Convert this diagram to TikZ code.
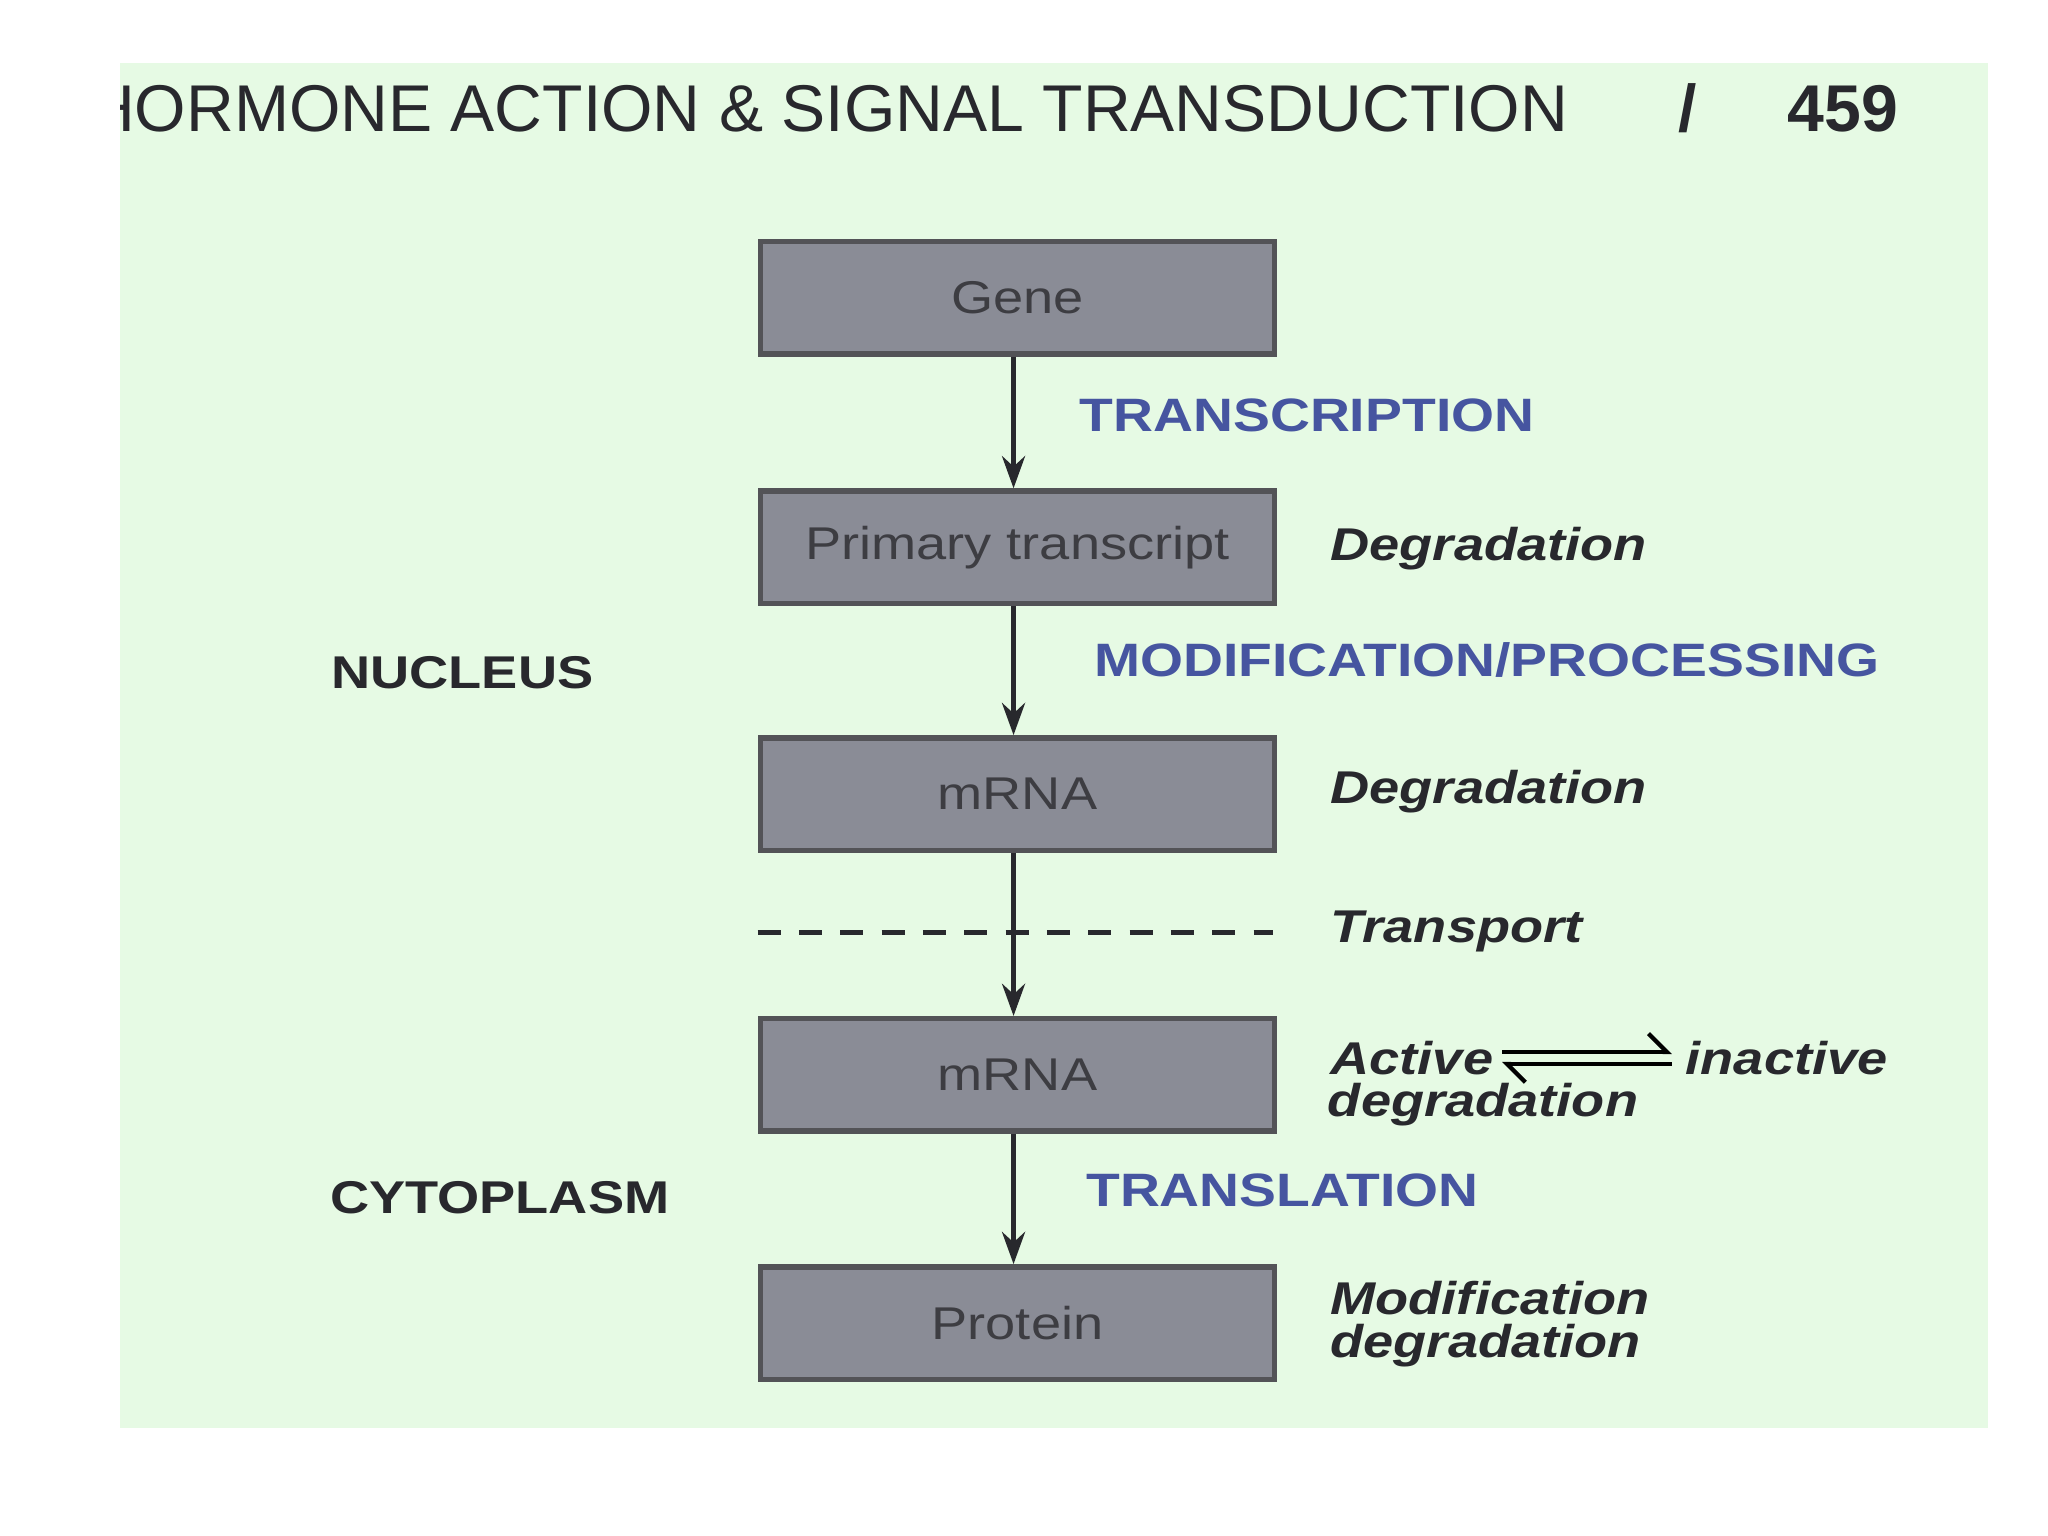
\documentclass[tikz,border=0pt]{standalone}
\usepackage{fontspec}
\setmainfont{Liberation Sans}
\newfontfamily\widefont[FakeStretch=1.18]{Liberation Sans}
\usetikzlibrary{arrows.meta}
\definecolor{panel}{RGB}{230,250,228}
\definecolor{boxg}{RGB}{138,140,150}
\definecolor{blueish}{RGB}{70,85,160}
\definecolor{txt}{RGB}{40,40,45}
\tikzset{
 stepbox/.style={draw=txt!80,line width=1.2pt,fill=boxg,minimum width=3.93cm,minimum height=0.86cm,text=txt!90,font=\widefont\fontsize{10}{11}\selectfont,inner sep=0pt},
 proc/.style={anchor=west,text=blueish,font=\widefont\fontsize{10.2}{11}\selectfont\bfseries,inner sep=0pt},
 note/.style={anchor=west,text=txt,font=\widefont\fontsize{10}{10.4}\selectfont\bfseries\itshape,inner sep=0pt,align=left},
 region/.style={anchor=west,text=txt,font=\widefont\fontsize{10}{11}\selectfont\bfseries,inner sep=0pt},
 flow/.style={-{Stealth[length=7pt,width=5pt]},line width=1.1pt,draw=txt}
}
\begin{document}
\begin{tikzpicture}[x=0.01cm,y=-0.01cm]
\useasboundingbox (0,0) rectangle (1568,1176);
\fill[white] (0,0) rectangle (1568,1176);
\fill[panel] (92,48) rectangle (1522,1093);
\begin{scope}
\clip (92,48) rectangle (1522,1093);
\node[anchor=base west,inner sep=0pt,text=txt,font=\fontsize{14.4}{16}\selectfont] (hdr) at (66,101) {HORMONE ACTION \& SIGNAL TRANSDUCTION};
\end{scope}
\node[anchor=base,inner sep=0pt,text=txt,font=\fontsize{14.4}{16}\selectfont\bfseries] (sl) at (1292,101) {/};
\node[anchor=base west,inner sep=0pt,text=txt,font=\fontsize{14.4}{16}\selectfont\bfseries] (pg) at (1368,101) {459};

\node[stepbox] (gene) at (779,228) {Gene};
\node[stepbox] (prim) at (779,419) {Primary transcript};
\node[stepbox] (m1) at (779,608) {mRNA};
\node[stepbox] (m2) at (779,823) {mRNA};
\node[stepbox] (prot) at (779,1013) {Protein};

\draw[flow] (gene.south -| 776,0) -- (prim.north -| 776,0);
\draw[flow] (prim.south -| 776,0) -- (m1.north -| 776,0);
\draw[flow] (m1.south -| 776,0) -- (m2.north -| 776,0);
\draw[flow] (m2.south -| 776,0) -- (prot.north -| 776,0);

\coordinate (dl) at (580,714);
\coordinate (dr) at (975,714);
\draw[line width=1.1pt,draw=txt,dash pattern=on 5pt off 4pt] (dl) -- (dr);

\node[proc] (tc) at (826,318) {TRANSCRIPTION};
\node[note] (d1) at (1018,420) {Degradation};
\node[proc] (mp) at (837,505) {MODIFICATION/PROCESSING};
\node[note] (d2) at (1018,606) {Degradation};
\node[note] (tr) at (1018,713) {Transport};
\node[note] (act) at (1018,810) {Active};
\node[note] (inact) at (1290,810) {inactive};
\node[note] (dg3) at (1016,846) {degradation};
\node[proc] (tl) at (831,911) {TRANSLATION};
\node[note] (md) at (1018,1014) {Modification\\[-1pt]degradation};
\node[region] (nuc) at (253,515) {NUCLEUS};
\node[region] (cyt) at (252,917) {CYTOPLASM};

\coordinate (ea) at (1150,810);
\coordinate (eb) at (1280,810);
\draw[line width=0.9pt,-{Straight Barb[left,length=4pt]}] ([yshift=1.3pt]ea) -- ([yshift=1.3pt]eb);
\draw[line width=0.9pt,-{Straight Barb[left,length=4pt]}] ([yshift=-1.3pt]eb) -- ([yshift=-1.3pt]ea);
\end{tikzpicture}
\end{document}
